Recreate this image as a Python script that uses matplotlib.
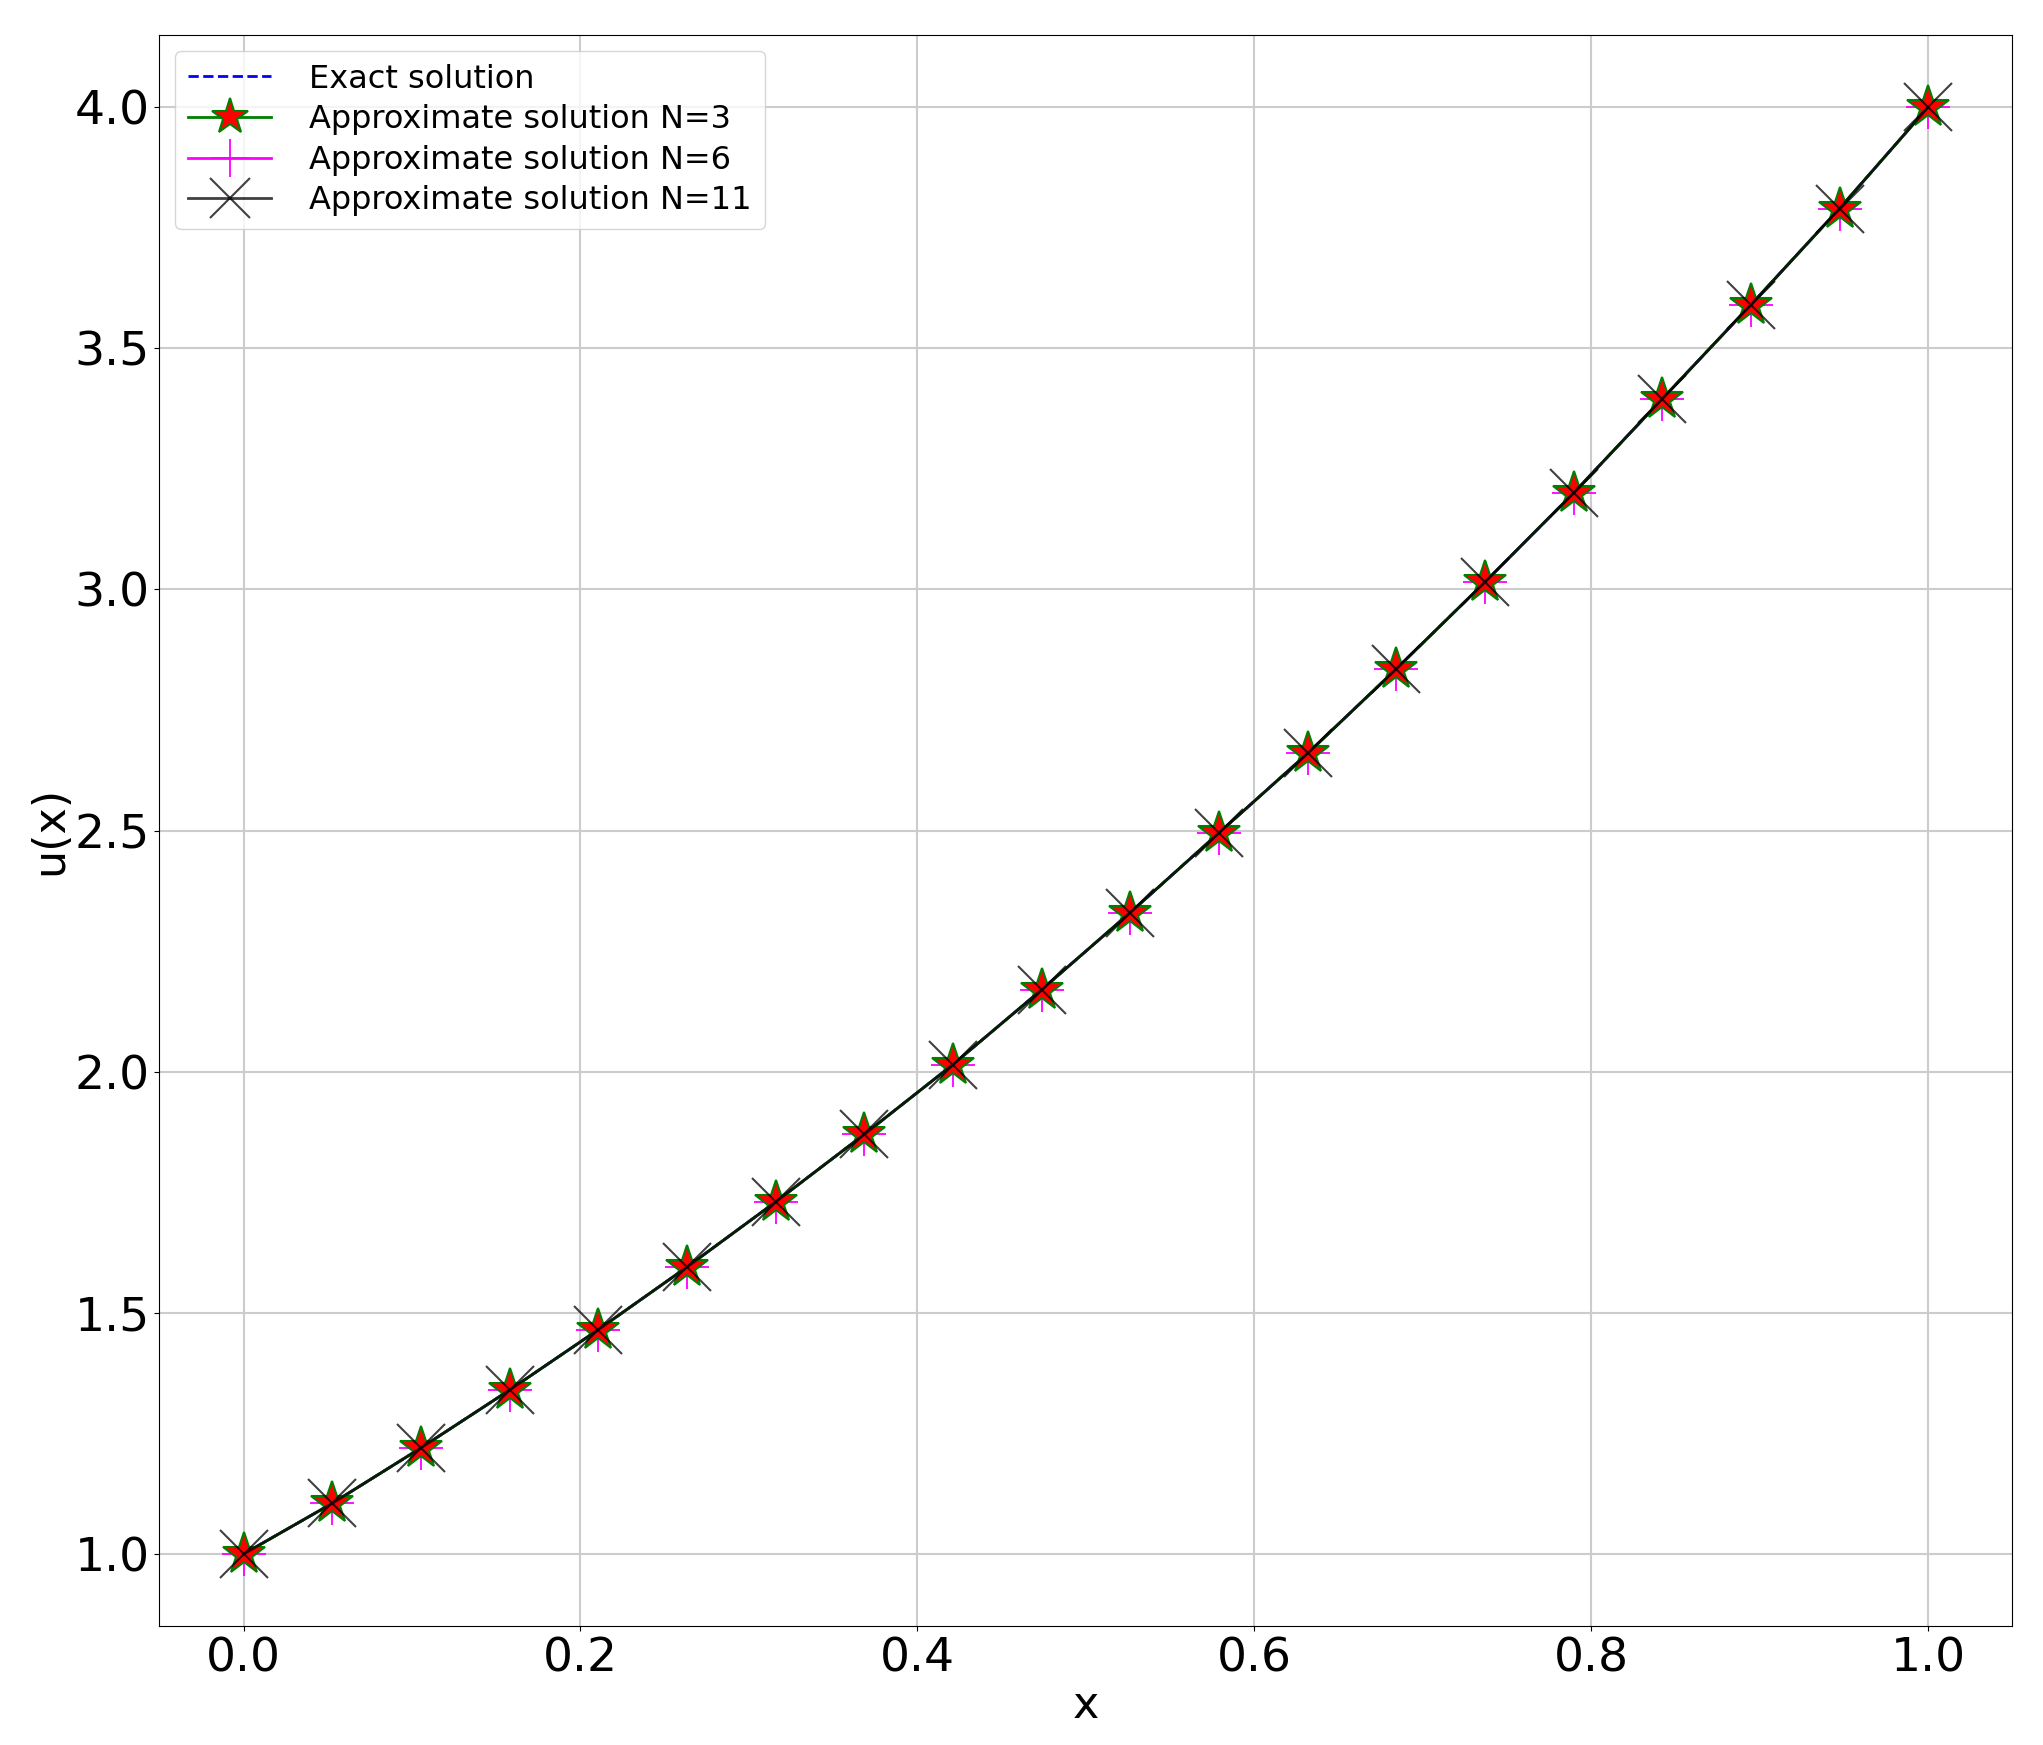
import matplotlib
matplotlib.use("Agg")
import matplotlib.pyplot as plt
import numpy as np

# values
x = [0.0, 0.0526, 0.1053, 0.1579, 0.2105, 0.2632, 0.3158, 0.3684, 0.4211, 0.4737,
     0.5263, 0.5789, 0.6316, 0.6842, 0.7368, 0.7895, 0.8421, 0.8947, 0.9474, 1.0]
u_exact = [1.0, 1.105, 1.22, 1.34, 1.465, 1.595, 1.73, 1.87, 2.015, 2.17,
           2.33, 2.495, 2.66, 2.835, 3.015, 3.2, 3.395, 3.59, 3.79, 4.0]
u_n3 = list(u_exact)
u_n6 = list(u_exact)
u_n11 = list(u_exact)

plt.rcParams["font.size"] = 30
fig, ax = plt.subplots(figsize=(20.43, 17.45), dpi=100)
fig.subplots_adjust(left=0.078, right=0.985, top=0.98, bottom=0.068)

ax.plot(x, u_exact, "b--", lw=2, label="Exact solution")
ax.plot(x, u_n3, color="green", marker="*", markersize=32, markerfacecolor="red",
        markeredgecolor="green", markeredgewidth=1.5, lw=2, zorder=2.5,
        label="Approximate solution N=3")
ax.plot(x, u_n6, color="magenta", marker="+", markersize=32, markeredgewidth=1.3,
        lw=2, zorder=2.4, label="Approximate solution N=6")
ax.plot(x, u_n11, color="black", marker="x", markersize=34, markeredgewidth=1.5,
        alpha=0.75, lw=2, zorder=5, label="Approximate solution N=11")

ax.set_xlabel("x", fontsize=32, labelpad=2)
ax.set_ylabel("u(x)", fontsize=32, labelpad=2)
ax.set_xticks(np.arange(0, 1.01, 0.2))
ax.set_yticks(np.arange(1.0, 4.01, 0.5))
ax.tick_params(labelsize=34)
ax.grid(True, color="#cccccc", lw=1.5)
ax.legend(loc="upper left", fontsize=23, markerscale=0.85, handlelength=2.6,
          handletextpad=1.2, labelspacing=0.3)

fig.savefig("out.png", dpi=100)
